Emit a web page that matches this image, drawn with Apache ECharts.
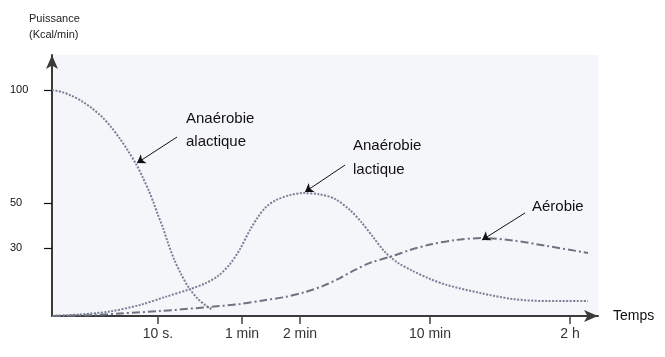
<!DOCTYPE html>
<html>
<head>
<meta charset="utf-8">
<script src="https://cdn.jsdelivr.net/npm/echarts@6/dist/echarts.min.js"></script>
<style>html,body{margin:0;padding:0;background:#fff}#c{width:665px;height:357px}</style>
</head>
<body>
<div id="c"></div>
<script>
// Schematic time position (x) and power in kcal/min (y)
const alactique = [[0,100.0],[10,99.1],[20,97.4],[30,95.0],[40,91.9],[50,88.1],[59,83.7],[68,78.4],[76,73.1],[84,67.3],[91,61.1],[97,55.3],[102,49.6],[106,44.7],[111,39.0],[116,32.3],[122,25.2],[129,18.6],[137,12.4],[146,7.5],[154,4.6],[161,2.7]];
const lactique = [[0,0],[28,0.7],[58,2.0],[88,4.9],[113,8.4],[138,11.9],[153,14.4],[166,17.7],[178,23.0],[188,29.6],[198,38.1],[206,43.8],[214,48.2],[224,51.3],[238,53.5],[251,54.4],[268,53.8],[283,51.8],[298,46.9],[310,41.2],[321,35.0],[333,28.3],[346,23.5],[361,19.9],[378,16.4],[395,13.7],[428,10.2],[461,7.5],[495,6.6],[536,6.6]];
const aerobie = [[0,0],[38,0.4],[68,1.1],[108,2.2],[158,4.0],[188,5.3],[211,6.9],[233,8.4],[253,10.6],[271,13.3],[288,16.8],[303,20.4],[318,23.5],[341,26.6],[358,29.2],[378,31.6],[403,33.6],[431,34.5],[461,33.4],[495,31.0],[536,27.9]];
const xTickPositions = [106,190,248,378,518];
const xTickLabels = ['10 s.','1 min','2 min','10 min','2 h'];
const yTickValues = [30,50,100];

const FONT = 'Liberation Sans, Arial, sans-serif';
const arrows = [
  [[125,79.2],[85,67.7]],
  [[293,66.8],[253,54.9]],
  [[473,45.6],[430,33.6]]
];

const chart = echarts.init(document.getElementById('c'));
chart.setOption({
  animation: false,
  backgroundColor: '#fff',
  grid: {left:52, right:67, top:55, bottom:41, show:true, backgroundColor:'#f5f6f9', borderWidth:0},
  xAxis: {
    type:'value', min:0, max:546,
    name:'Temps', nameLocation:'end', nameGap:15,
    nameTextStyle:{fontFamily:FONT, fontSize:14, color:'#111', verticalAlign:'middle', padding:[0,0,4,0]},
    axisLine:{show:true, lineStyle:{color:'#3a3a3a', width:2}, symbol:['none','arrow'], symbolSize:[9,14]},
    axisTick:{show:true, customValues:xTickPositions, length:8, lineStyle:{color:'#444', width:1.5}},
    axisLabel:{show:true, customValues:xTickPositions, margin:11, fontFamily:FONT, fontSize:14, color:'#333',
      formatter:function(v){const i=xTickPositions.indexOf(v);return i>=0?xTickLabels[i]:'';}},
    splitLine:{show:false}
  },
  yAxis: {
    type:'value', min:0, max:115.5,
    axisLine:{show:true, lineStyle:{color:'#3a3a3a', width:2}, symbol:['none','arrow'], symbolSize:[9,14]},
    axisTick:{show:true, customValues:yTickValues, length:8, lineStyle:{color:'#111', width:1.2}},
    axisLabel:{show:true, customValues:yTickValues, margin:42, align:'left', fontFamily:FONT, fontSize:11, color:'#111'},
    splitLine:{show:false}
  },
  graphic: [
    {type:'text', left:29, top:11, style:{text:'Puissance\n(Kcal/min)', font:'11px '+FONT, fill:'#222', lineHeight:16}},
    {type:'text', left:186, top:107, style:{text:'Anaérobie\nalactique', font:'15px '+FONT, fill:'#111', lineHeight:23}},
    {type:'text', left:353, top:134, style:{text:'Anaérobie\nlactique', font:'15px '+FONT, fill:'#111', lineHeight:24}},
    {type:'text', left:532, top:197, style:{text:'Aérobie', font:'15px '+FONT, fill:'#111', lineHeight:20}}
  ],
  series: [
    {name:'Anaérobie alactique', type:'line', data:alactique, smooth:0.3, showSymbol:false,
      lineStyle:{color:'#7a7f98', width:2, type:[2,1.5]},
      markLine:{silent:true, symbol:['none','arrow'], symbolSize:8, label:{show:false},
        lineStyle:{color:'#111', width:1, type:'solid'},
        data: arrows.map(a=>[{coord:a[0]},{coord:a[1]}])}},
    {name:'Anaérobie lactique', type:'line', data:lactique, smooth:0.3, showSymbol:false,
      lineStyle:{color:'#7a7f98', width:2, type:[2,1.5]}},
    {name:'Aérobie', type:'line', data:aerobie, smooth:0.3, showSymbol:false,
      lineStyle:{color:'#6f7280', width:2, type:[8,3,2,3]}}
  ]
});
</script>
</body>
</html>
